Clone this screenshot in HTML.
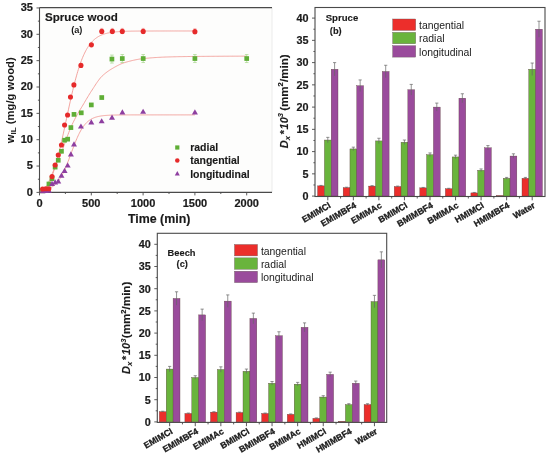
<!DOCTYPE html>
<html><head><meta charset="utf-8"><style>
html,body{margin:0;padding:0;background:#fff;}
svg{display:block;will-change:transform;filter:blur(0.3px);}
</style></head><body>
<svg width="550" height="455" viewBox="0 0 550 455">
<rect width="550" height="455" fill="#fff"/>
<rect x="39.5" y="7.6" width="232.5" height="184.8" fill="#fdfdfc" stroke="none"/>
<line x1="272" y1="7.6" x2="272" y2="192.4" stroke="#ebebeb" stroke-width="1"/>
<line x1="39.5" y1="7.6" x2="272" y2="7.6" stroke="#4a4a4a" stroke-width="1.1"/>
<line x1="39.5" y1="7.6" x2="39.5" y2="192.4" stroke="#4a4a4a" stroke-width="1.1"/>
<line x1="39.5" y1="192.4" x2="272" y2="192.4" stroke="#4a4a4a" stroke-width="1.1"/>
<line x1="36.5" y1="192.4" x2="39.5" y2="192.4" stroke="#4a4a4a" stroke-width="0.9"/>
<text x="32.9" y="195.7" text-anchor="end" style="font-family:'Liberation Sans',sans-serif;font-weight:bold;font-size:11px" fill="#1a1a1a" stroke="#1a1a1a" stroke-width="0.2">0</text>
<line x1="37.9" y1="179.22" x2="39.5" y2="179.22" stroke="#4a4a4a" stroke-width="0.9"/>
<line x1="36.5" y1="166.05" x2="39.5" y2="166.05" stroke="#4a4a4a" stroke-width="0.9"/>
<text x="32.9" y="169.35" text-anchor="end" style="font-family:'Liberation Sans',sans-serif;font-weight:bold;font-size:11px" fill="#1a1a1a" stroke="#1a1a1a" stroke-width="0.2">5</text>
<line x1="37.9" y1="152.88" x2="39.5" y2="152.88" stroke="#4a4a4a" stroke-width="0.9"/>
<line x1="36.5" y1="139.7" x2="39.5" y2="139.7" stroke="#4a4a4a" stroke-width="0.9"/>
<text x="32.9" y="143" text-anchor="end" style="font-family:'Liberation Sans',sans-serif;font-weight:bold;font-size:11px" fill="#1a1a1a" stroke="#1a1a1a" stroke-width="0.2">10</text>
<line x1="37.9" y1="126.53" x2="39.5" y2="126.53" stroke="#4a4a4a" stroke-width="0.9"/>
<line x1="36.5" y1="113.35" x2="39.5" y2="113.35" stroke="#4a4a4a" stroke-width="0.9"/>
<text x="32.9" y="116.65" text-anchor="end" style="font-family:'Liberation Sans',sans-serif;font-weight:bold;font-size:11px" fill="#1a1a1a" stroke="#1a1a1a" stroke-width="0.2">15</text>
<line x1="37.9" y1="100.18" x2="39.5" y2="100.18" stroke="#4a4a4a" stroke-width="0.9"/>
<line x1="36.5" y1="87" x2="39.5" y2="87" stroke="#4a4a4a" stroke-width="0.9"/>
<text x="32.9" y="90.3" text-anchor="end" style="font-family:'Liberation Sans',sans-serif;font-weight:bold;font-size:11px" fill="#1a1a1a" stroke="#1a1a1a" stroke-width="0.2">20</text>
<line x1="37.9" y1="73.83" x2="39.5" y2="73.83" stroke="#4a4a4a" stroke-width="0.9"/>
<line x1="36.5" y1="60.65" x2="39.5" y2="60.65" stroke="#4a4a4a" stroke-width="0.9"/>
<text x="32.9" y="63.95" text-anchor="end" style="font-family:'Liberation Sans',sans-serif;font-weight:bold;font-size:11px" fill="#1a1a1a" stroke="#1a1a1a" stroke-width="0.2">25</text>
<line x1="37.9" y1="47.48" x2="39.5" y2="47.48" stroke="#4a4a4a" stroke-width="0.9"/>
<line x1="36.5" y1="34.3" x2="39.5" y2="34.3" stroke="#4a4a4a" stroke-width="0.9"/>
<text x="32.9" y="37.6" text-anchor="end" style="font-family:'Liberation Sans',sans-serif;font-weight:bold;font-size:11px" fill="#1a1a1a" stroke="#1a1a1a" stroke-width="0.2">30</text>
<line x1="37.9" y1="21.13" x2="39.5" y2="21.13" stroke="#4a4a4a" stroke-width="0.9"/>
<line x1="36.5" y1="7.95" x2="39.5" y2="7.95" stroke="#4a4a4a" stroke-width="0.9"/>
<text x="32.9" y="11.25" text-anchor="end" style="font-family:'Liberation Sans',sans-serif;font-weight:bold;font-size:11px" fill="#1a1a1a" stroke="#1a1a1a" stroke-width="0.2">35</text>
<line x1="39.5" y1="192.4" x2="39.5" y2="195.4" stroke="#4a4a4a" stroke-width="0.9"/>
<text x="39.5" y="206.6" text-anchor="middle" style="font-family:'Liberation Sans',sans-serif;font-weight:bold;font-size:11px" fill="#1a1a1a" stroke="#1a1a1a" stroke-width="0.2">0</text>
<line x1="65.4" y1="192.4" x2="65.4" y2="194.0" stroke="#4a4a4a" stroke-width="0.9"/>
<line x1="91.3" y1="192.4" x2="91.3" y2="195.4" stroke="#4a4a4a" stroke-width="0.9"/>
<text x="91.3" y="206.6" text-anchor="middle" style="font-family:'Liberation Sans',sans-serif;font-weight:bold;font-size:11px" fill="#1a1a1a" stroke="#1a1a1a" stroke-width="0.2">500</text>
<line x1="117.2" y1="192.4" x2="117.2" y2="194.0" stroke="#4a4a4a" stroke-width="0.9"/>
<line x1="143.1" y1="192.4" x2="143.1" y2="195.4" stroke="#4a4a4a" stroke-width="0.9"/>
<text x="143.1" y="206.6" text-anchor="middle" style="font-family:'Liberation Sans',sans-serif;font-weight:bold;font-size:11px" fill="#1a1a1a" stroke="#1a1a1a" stroke-width="0.2">1000</text>
<line x1="169" y1="192.4" x2="169" y2="194.0" stroke="#4a4a4a" stroke-width="0.9"/>
<line x1="194.9" y1="192.4" x2="194.9" y2="195.4" stroke="#4a4a4a" stroke-width="0.9"/>
<text x="194.9" y="206.6" text-anchor="middle" style="font-family:'Liberation Sans',sans-serif;font-weight:bold;font-size:11px" fill="#1a1a1a" stroke="#1a1a1a" stroke-width="0.2">1500</text>
<line x1="220.8" y1="192.4" x2="220.8" y2="194.0" stroke="#4a4a4a" stroke-width="0.9"/>
<line x1="246.7" y1="192.4" x2="246.7" y2="195.4" stroke="#4a4a4a" stroke-width="0.9"/>
<text x="246.7" y="206.6" text-anchor="middle" style="font-family:'Liberation Sans',sans-serif;font-weight:bold;font-size:11px" fill="#1a1a1a" stroke="#1a1a1a" stroke-width="0.2">2000</text>
<text x="159.2" y="222.6" text-anchor="middle" style="font-family:'Liberation Sans',sans-serif;font-weight:bold;font-size:12.4px" fill="#1a1a1a" stroke="#1a1a1a" stroke-width="0.15">Time (min)</text>
<text transform="translate(13.8,100.3) rotate(-90)" text-anchor="middle" style="font-family:'Liberation Sans',sans-serif;font-weight:bold;font-size:11.25px" fill="#1a1a1a">w<tspan dy="2.5" style="font-size:8px">IL</tspan><tspan dy="-2.5"> (mg/g wood)</tspan></text>
<text x="45" y="21.3" style="font-family:'Liberation Sans',sans-serif;font-weight:bold;font-size:11.6px" fill="#1a1a1a" stroke="#1a1a1a" stroke-width="0.15">Spruce wood</text>
<text x="71.2" y="33.2" style="font-family:'Liberation Sans',sans-serif;font-weight:bold;font-size:9.2px" fill="#1a1a1a">(a)</text>
<polyline points="44.16,192.32 44.78,191.38 45.41,190.4 46.03,189.35 46.65,188.26 47.27,187.1 47.89,185.88 48.51,184.61 49.13,183.26 49.76,181.85 50.38,180.37 51,178.82 51.62,177.2 52.24,175.51 52.86,173.74 53.49,171.9 54.11,169.99 54.73,168 55.35,165.93 55.97,163.79 56.59,161.58 57.22,159.3 57.84,156.94 58.46,154.52 59.08,152.03 59.7,149.48 60.32,146.87 60.95,144.21 61.57,141.5 62.19,138.73 62.81,135.93 63.43,133.09 64.05,130.23 64.67,127.33 65.3,124.42 65.92,121.5 66.54,118.57 67.16,115.65 67.78,112.73 68.4,109.83 69.03,106.94 69.65,104.08 70.27,101.26 70.89,98.47 71.51,95.73 72.13,93.03 72.76,90.39 73.38,87.8 74,85.27 74.62,82.81 75.24,80.41 75.86,78.08 76.49,75.83 77.11,73.64 77.73,71.53 78.35,69.49 78.97,67.53 79.59,65.64 80.21,63.83 80.84,62.09 81.46,60.43 82.08,58.83 82.7,57.31 83.32,55.86 83.94,54.47 84.57,53.15 85.19,51.9 85.81,50.7 86.43,49.57 87.05,48.49 87.67,47.47 88.3,46.5 88.92,45.59 89.54,44.72 90.16,43.91 90.78,43.13 91.4,42.4 92.03,41.71 92.65,41.06 93.27,40.45 93.89,39.87 94.51,39.33 95.13,38.81 95.75,38.33 96.38,37.88 97,37.45 97.62,37.05 98.24,36.67 98.86,36.32 99.48,35.98 100.11,35.67 100.73,35.38 101.35,35.1 101.97,34.84 102.59,34.6 103.21,34.37 103.84,34.16 104.46,33.96 105.08,33.77 105.7,33.59 106.32,33.43 106.94,33.27 107.57,33.12 108.19,32.99 108.81,32.86 109.43,32.74 110.05,32.63 110.67,32.52 111.29,32.43 111.92,32.33 112.54,32.25 113.16,32.17 113.78,32.09 114.4,32.02 115.02,31.95 115.65,31.89 116.27,31.83 116.89,31.78 117.51,31.73 118.13,31.68 118.75,31.63 119.38,31.59 120,31.55 120.62,31.52 121.24,31.48 121.86,31.45 122.48,31.42 123.11,31.39 123.73,31.37 124.35,31.34 124.97,31.32 125.59,31.3 126.21,31.28 126.83,31.26 127.46,31.24 128.08,31.22 128.7,31.21 129.32,31.19 129.94,31.18 130.56,31.17 131.19,31.15 131.81,31.14 132.43,31.13 133.05,31.12 133.67,31.11 134.29,31.1 134.92,31.1 135.54,31.09 136.16,31.08 136.78,31.08 137.4,31.07 138.02,31.06 138.65,31.06 139.27,31.05 139.89,31.05 140.51,31.04 141.13,31.04 141.75,31.04 142.37,31.03 143,31.03 143.62,31.03 144.24,31.02 144.86,31.02 145.48,31.02 146.1,31.02 146.73,31.01 147.35,31.01 147.97,31.01 148.59,31.01 149.21,31.01 149.83,31 150.46,31 151.08,31 151.7,31 152.32,31 152.94,31 153.56,31 154.19,30.99 154.81,30.99 155.43,30.99 156.05,30.99 156.67,30.99 157.29,30.99 157.91,30.99 158.54,30.99 159.16,30.99 159.78,30.99 160.4,30.99 161.02,30.99 161.64,30.99 162.27,30.99 162.89,30.99 163.51,30.99 164.13,30.99 164.75,30.98 165.37,30.98 166,30.98 166.62,30.98 167.24,30.98 167.86,30.98 168.48,30.98 169.1,30.98 169.73,30.98 170.35,30.98 170.97,30.98 171.59,30.98 172.21,30.98 172.83,30.98 173.45,30.98 174.08,30.98 174.7,30.98 175.32,30.98 175.94,30.98 176.56,30.98 177.18,30.98 177.81,30.98 178.43,30.98 179.05,30.98 179.67,30.98 180.29,30.98 180.91,30.98 181.54,30.98 182.16,30.98 182.78,30.98 183.4,30.98 184.02,30.98 184.64,30.98 185.27,30.98 185.89,30.98 186.51,30.98 187.13,30.98 187.75,30.98 188.37,30.98 188.99,30.98 189.62,30.98 190.24,30.98 190.86,30.98 191.48,30.98 192.1,30.98 192.72,30.98 193.35,30.98 193.97,30.98 194.59,30.98" fill="none" stroke="#f29a94" stroke-width="0.9"/>
<polyline points="43.95,192.4 44.78,190.59 45.61,188.77 46.44,186.93 47.27,185.08 48.1,183.22 48.93,181.35 49.76,179.46 50.59,177.55 51.41,175.62 52.24,173.67 53.07,171.71 53.9,169.76 54.73,167.82 55.56,165.92 56.39,164.04 57.22,162.19 58.04,160.35 58.87,158.49 59.7,156.59 60.53,154.65 61.36,152.64 62.19,150.53 63.02,148.34 63.85,146.08 64.67,143.78 65.5,141.46 66.33,139.14 67.16,136.84 67.99,134.58 68.82,132.38 69.65,130.26 70.48,128.25 71.31,126.36 72.13,124.55 72.96,122.81 73.79,121.13 74.62,119.5 75.45,117.92 76.28,116.37 77.11,114.85 77.94,113.39 78.76,111.96 79.59,110.57 80.42,109.2 81.25,107.83 82.08,106.47 82.91,105.09 83.74,103.7 84.57,102.29 85.39,100.89 86.22,99.48 87.05,98.08 87.88,96.69 88.71,95.32 89.54,93.97 90.37,92.66 91.2,91.37 92.03,90.11 92.85,88.82 93.68,87.53 94.51,86.25 95.34,84.97 96.17,83.71 97,82.48 97.83,81.29 98.66,80.15 99.48,79.06 100.31,78.04 101.14,77.09 101.97,76.23 102.8,75.45 103.63,74.71 104.46,74 105.29,73.32 106.11,72.67 106.94,72.04 107.77,71.44 108.6,70.87 109.43,70.31 110.26,69.78 111.09,69.26 111.92,68.75 112.75,68.26 113.57,67.79 114.4,67.32 115.23,66.86 116.06,66.41 116.89,65.96 117.72,65.52 118.55,65.1 119.38,64.69 120.2,64.29 121.03,63.92 121.86,63.57 122.69,63.25 123.52,62.96 124.35,62.69 125.18,62.44 126.01,62.2 126.83,61.96 127.66,61.73 128.49,61.5 129.32,61.28 130.15,61.06 130.98,60.85 131.81,60.65 132.64,60.45 133.47,60.26 134.29,60.08 135.12,59.91 135.95,59.74 136.78,59.58 137.61,59.43 138.44,59.28 139.27,59.14 140.1,59.01 140.92,58.89 141.75,58.78 142.58,58.68 143.41,58.59 144.24,58.5 145.07,58.42 145.9,58.34 146.73,58.26 147.55,58.18 148.38,58.11 149.21,58.03 150.04,57.96 150.87,57.89 151.7,57.83 152.53,57.76 153.36,57.7 154.19,57.64 155.01,57.58 155.84,57.53 156.67,57.48 157.5,57.42 158.33,57.37 159.16,57.33 159.99,57.28 160.82,57.24 161.64,57.2 162.47,57.16 163.3,57.12 164.13,57.09 164.96,57.06 165.79,57.03 166.62,57 167.45,56.97 168.27,56.95 169.1,56.92 169.93,56.9 170.76,56.88 171.59,56.85 172.42,56.83 173.25,56.81 174.08,56.79 174.91,56.77 175.73,56.75 176.56,56.73 177.39,56.71 178.22,56.7 179.05,56.68 179.88,56.66 180.71,56.65 181.54,56.63 182.36,56.61 183.19,56.6 184.02,56.59 184.85,56.57 185.68,56.56 186.51,56.55 187.34,56.53 188.17,56.52 188.99,56.51 189.82,56.5 190.65,56.49 191.48,56.48 192.31,56.47 193.14,56.46 193.97,56.45 194.8,56.45 195.63,56.44 196.45,56.43 197.28,56.42 198.11,56.42 198.94,56.41 199.77,56.4 200.6,56.4 201.43,56.39 202.26,56.38 203.08,56.38 203.91,56.37 204.74,56.36 205.57,56.36 206.4,56.35 207.23,56.34 208.06,56.34 208.89,56.33 209.71,56.32 210.54,56.32 211.37,56.31 212.2,56.31 213.03,56.3 213.86,56.29 214.69,56.29 215.52,56.28 216.35,56.28 217.17,56.27 218,56.27 218.83,56.26 219.66,56.26 220.49,56.25 221.32,56.25 222.15,56.24 222.98,56.24 223.8,56.23 224.63,56.23 225.46,56.23 226.29,56.22 227.12,56.22 227.95,56.21 228.78,56.21 229.61,56.21 230.43,56.2 231.26,56.2 232.09,56.2 232.92,56.19 233.75,56.19 234.58,56.19 235.41,56.19 236.24,56.18 237.07,56.18 237.89,56.18 238.72,56.18 239.55,56.18 240.38,56.18 241.21,56.17 242.04,56.17 242.87,56.17 243.7,56.17 244.52,56.17 245.35,56.17 246.18,56.17" fill="none" stroke="#f29a94" stroke-width="0.9"/>
<polyline points="39.5,190.95 40.12,190.87 40.74,190.78 41.36,190.69 41.99,190.59 42.61,190.48 43.23,190.36 43.85,190.23 44.47,190.08 45.09,189.93 45.72,189.76 46.34,189.57 46.96,189.37 47.58,189.16 48.2,188.92 48.82,188.67 49.45,188.39 50.07,188.09 50.69,187.77 51.31,187.41 51.93,187.03 52.55,186.63 53.18,186.18 53.8,185.71 54.42,185.19 55.04,184.64 55.66,184.05 56.28,183.41 56.9,182.73 57.53,182 58.15,181.23 58.77,180.4 59.39,179.52 60.01,178.58 60.63,177.59 61.26,176.54 61.88,175.44 62.5,174.28 63.12,173.06 63.74,171.79 64.36,170.46 64.99,169.07 65.61,167.64 66.23,166.16 66.85,164.64 67.47,163.07 68.09,161.48 68.72,159.85 69.34,158.19 69.96,156.52 70.58,154.84 71.2,153.15 71.82,151.46 72.44,149.78 73.07,148.11 73.69,146.46 74.31,144.84 74.93,143.25 75.55,141.7 76.17,140.18 76.8,138.71 77.42,137.29 78.04,135.92 78.66,134.61 79.28,133.35 79.9,132.14 80.53,130.99 81.15,129.9 81.77,128.87 82.39,127.89 83.01,126.97 83.63,126.1 84.26,125.28 84.88,124.52 85.5,123.8 86.12,123.13 86.74,122.51 87.36,121.92 87.98,121.38 88.61,120.88 89.23,120.41 89.85,119.97 90.47,119.57 91.09,119.2 91.71,118.85 92.34,118.54 92.96,118.24 93.58,117.97 94.2,117.72 94.82,117.49 95.44,117.28 96.07,117.08 96.69,116.9 97.31,116.73 97.93,116.58 98.55,116.44 99.17,116.31 99.8,116.19 100.42,116.08 101.04,115.98 101.66,115.89 102.28,115.81 102.9,115.73 103.52,115.66 104.15,115.59 104.77,115.54 105.39,115.48 106.01,115.43 106.63,115.38 107.25,115.34 107.88,115.3 108.5,115.27 109.12,115.23 109.74,115.2 110.36,115.18 110.98,115.15 111.61,115.13 112.23,115.11 112.85,115.09 113.47,115.07 114.09,115.06 114.71,115.04 115.34,115.03 115.96,115.01 116.58,115 117.2,114.99 117.82,114.98 118.44,114.97 119.06,114.97 119.69,114.96 120.31,114.95 120.93,114.95 121.55,114.94 122.17,114.93 122.79,114.93 123.42,114.93 124.04,114.92 124.66,114.92 125.28,114.91 125.9,114.91 126.52,114.91 127.15,114.91 127.77,114.9 128.39,114.9 129.01,114.9 129.63,114.9 130.25,114.9 130.88,114.89 131.5,114.89 132.12,114.89 132.74,114.89 133.36,114.89 133.98,114.89 134.6,114.89 135.23,114.89 135.85,114.89 136.47,114.89 137.09,114.89 137.71,114.88 138.33,114.88 138.96,114.88 139.58,114.88 140.2,114.88 140.82,114.88 141.44,114.88 142.06,114.88 142.69,114.88 143.31,114.88 143.93,114.88 144.55,114.88 145.17,114.88 145.79,114.88 146.42,114.88 147.04,114.88 147.66,114.88 148.28,114.88 148.9,114.88 149.52,114.88 150.14,114.88 150.77,114.88 151.39,114.88 152.01,114.88 152.63,114.88 153.25,114.88 153.87,114.88 154.5,114.88 155.12,114.88 155.74,114.88 156.36,114.88 156.98,114.88 157.6,114.88 158.23,114.88 158.85,114.88 159.47,114.88 160.09,114.88 160.71,114.88 161.33,114.88 161.96,114.88 162.58,114.88 163.2,114.88 163.82,114.88 164.44,114.88 165.06,114.88 165.68,114.88 166.31,114.88 166.93,114.88 167.55,114.88 168.17,114.88 168.79,114.88 169.41,114.88 170.04,114.88 170.66,114.88 171.28,114.88 171.9,114.88 172.52,114.88 173.14,114.88 173.77,114.88 174.39,114.88 175.01,114.88 175.63,114.88 176.25,114.88 176.87,114.88 177.5,114.88 178.12,114.88 178.74,114.88 179.36,114.88 179.98,114.88 180.6,114.88 181.22,114.88 181.85,114.88 182.47,114.88 183.09,114.88 183.71,114.88 184.33,114.88 184.95,114.88 185.58,114.88 186.2,114.88 186.82,114.88 187.44,114.88 188.06,114.88 188.68,114.88 189.31,114.88 189.93,114.88 190.55,114.88 191.17,114.88 191.79,114.88 192.41,114.88 193.04,114.88 193.66,114.88 194.28,114.88 194.9,114.88" fill="none" stroke="#f29a94" stroke-width="0.9"/>
<path d="M111.92 55.07V63.07M110.12 55.07h3.6M110.12 63.07h3.6" stroke="#a6d68c" stroke-width="0.7" fill="none"/>
<path d="M122.28 54.54V62.54M120.48 54.54h3.6M120.48 62.54h3.6" stroke="#a6d68c" stroke-width="0.7" fill="none"/>
<path d="M143.2 54.54V62.54M141.4 54.54h3.6M141.4 62.54h3.6" stroke="#a6d68c" stroke-width="0.7" fill="none"/>
<path d="M194.9 54.54V62.54M193.1 54.54h3.6M193.1 62.54h3.6" stroke="#a6d68c" stroke-width="0.7" fill="none"/>
<path d="M246.7 54.54V62.54M244.9 54.54h3.6M244.9 62.54h3.6" stroke="#a6d68c" stroke-width="0.7" fill="none"/>
<path d="M101.76 28.4V34.4M100.26 28.4h3" stroke="#f3a0a0" stroke-width="0.7" fill="none"/>
<path d="M112.33 28.4V34.4M110.83 28.4h3" stroke="#f3a0a0" stroke-width="0.7" fill="none"/>
<path d="M122.28 28.4V34.4M120.78 28.4h3" stroke="#f3a0a0" stroke-width="0.7" fill="none"/>
<path d="M143.2 28.4V34.4M141.7 28.4h3" stroke="#f3a0a0" stroke-width="0.7" fill="none"/>
<path d="M194.9 28.67V34.67M193.4 28.67h3" stroke="#f3a0a0" stroke-width="0.7" fill="none"/>
<rect x="40.26" y="188.47" width="4.7" height="4.7" fill="#5fae36"/>
<rect x="43.37" y="187.94" width="4.7" height="4.7" fill="#5fae36"/>
<rect x="46.58" y="181.62" width="4.7" height="4.7" fill="#5fae36"/>
<rect x="49.69" y="176.35" width="4.7" height="4.7" fill="#5fae36"/>
<rect x="52.79" y="164.75" width="4.7" height="4.7" fill="#5fae36"/>
<rect x="55.9" y="157.9" width="4.7" height="4.7" fill="#5fae36"/>
<rect x="59.11" y="148.94" width="4.7" height="4.7" fill="#5fae36"/>
<rect x="62.22" y="137.88" width="4.7" height="4.7" fill="#5fae36"/>
<rect x="65.33" y="136.82" width="4.7" height="4.7" fill="#5fae36"/>
<rect x="68.54" y="125.23" width="4.7" height="4.7" fill="#5fae36"/>
<rect x="71.65" y="112.05" width="4.7" height="4.7" fill="#5fae36"/>
<rect x="78.9" y="110.47" width="4.7" height="4.7" fill="#5fae36"/>
<rect x="88.95" y="102.57" width="4.7" height="4.7" fill="#5fae36"/>
<rect x="99.41" y="95.19" width="4.7" height="4.7" fill="#5fae36"/>
<rect x="109.57" y="56.72" width="4.7" height="4.7" fill="#5fae36"/>
<rect x="119.93" y="56.19" width="4.7" height="4.7" fill="#5fae36"/>
<rect x="140.85" y="56.19" width="4.7" height="4.7" fill="#5fae36"/>
<rect x="192.55" y="56.19" width="4.7" height="4.7" fill="#5fae36"/>
<rect x="244.35" y="56.19" width="4.7" height="4.7" fill="#5fae36"/>
<path d="M42.61 187.98L45.61 193.18L39.61 193.18Z" fill="#8e3fa0"/>
<path d="M45.72 187.72L48.72 192.92L42.72 192.92Z" fill="#8e3fa0"/>
<path d="M48.82 187.46L51.82 192.66L45.82 192.66Z" fill="#8e3fa0"/>
<path d="M52.04 180.87L55.04 186.07L49.04 186.07Z" fill="#8e3fa0"/>
<path d="M55.14 179.29L58.14 184.49L52.14 184.49Z" fill="#8e3fa0"/>
<path d="M58.25 178.23L61.25 183.43L55.25 183.43Z" fill="#8e3fa0"/>
<path d="M61.46 172.44L64.46 177.64L58.46 177.64Z" fill="#8e3fa0"/>
<path d="M64.57 167.69L67.57 172.89L61.57 172.89Z" fill="#8e3fa0"/>
<path d="M67.68 162.42L70.68 167.62L64.68 167.62Z" fill="#8e3fa0"/>
<path d="M70.89 151.36L73.89 156.56L67.89 156.56Z" fill="#8e3fa0"/>
<path d="M74 141.34L77 146.54L71 146.54Z" fill="#8e3fa0"/>
<path d="M80.94 123.43L83.94 128.62L77.94 128.62Z" fill="#8e3fa0"/>
<path d="M91.3 119.21L94.3 124.41L88.3 124.41Z" fill="#8e3fa0"/>
<path d="M101.66 118.16L104.66 123.36L98.66 123.36Z" fill="#8e3fa0"/>
<path d="M112.02 114.47L115.02 119.67L109.02 119.67Z" fill="#8e3fa0"/>
<path d="M122.38 109.2L125.38 114.4L119.38 114.4Z" fill="#8e3fa0"/>
<path d="M143.1 108.67L146.1 113.87L140.1 113.87Z" fill="#8e3fa0"/>
<path d="M194.9 109.2L197.9 114.4L191.9 114.4Z" fill="#8e3fa0"/>
<circle cx="42.61" cy="188.97" r="2.55" fill="#e62a2a"/>
<circle cx="45.72" cy="188.71" r="2.55" fill="#e62a2a"/>
<circle cx="48.82" cy="188.71" r="2.55" fill="#e62a2a"/>
<circle cx="52.04" cy="176.59" r="2.55" fill="#e62a2a"/>
<circle cx="55.14" cy="165" r="2.55" fill="#e62a2a"/>
<circle cx="58.25" cy="154.98" r="2.55" fill="#e62a2a"/>
<circle cx="61.46" cy="144.97" r="2.55" fill="#e62a2a"/>
<circle cx="64.57" cy="124.94" r="2.55" fill="#e62a2a"/>
<circle cx="67.58" cy="114.93" r="2.55" fill="#e62a2a"/>
<circle cx="70.48" cy="97.01" r="2.55" fill="#e62a2a"/>
<circle cx="73.9" cy="84.89" r="2.55" fill="#e62a2a"/>
<circle cx="80.94" cy="65.39" r="2.55" fill="#e62a2a"/>
<circle cx="91.4" cy="44.84" r="2.55" fill="#e62a2a"/>
<circle cx="101.76" cy="31.4" r="2.55" fill="#e62a2a"/>
<circle cx="112.33" cy="31.4" r="2.55" fill="#e62a2a"/>
<circle cx="122.28" cy="31.4" r="2.55" fill="#e62a2a"/>
<circle cx="143.2" cy="31.4" r="2.55" fill="#e62a2a"/>
<circle cx="194.9" cy="31.67" r="2.55" fill="#e62a2a"/>
<rect x="175.2" y="145.4" width="4.2" height="4.2" fill="#5fae36"/>
<circle cx="177.3" cy="160.5" r="2.25" fill="#e62a2a"/>
<path d="M177.3 171L179.8 175.4L174.8 175.4Z" fill="#8e3fa0"/>
<text x="190.2" y="151.4" style="font-family:'Liberation Sans',sans-serif;font-weight:bold;font-size:10.5px" fill="#1a1a1a" stroke="#1a1a1a" stroke-width="0.12">radial</text>
<text x="190.2" y="164.4" style="font-family:'Liberation Sans',sans-serif;font-weight:bold;font-size:10.5px" fill="#1a1a1a" stroke="#1a1a1a" stroke-width="0.12">tangential</text>
<text x="190.2" y="177.5" style="font-family:'Liberation Sans',sans-serif;font-weight:bold;font-size:10.5px" fill="#1a1a1a" stroke="#1a1a1a" stroke-width="0.12">longitudinal</text>
<rect x="315" y="7.5" width="230" height="189.0" fill="none" stroke="#4a4a4a" stroke-width="1.1"/>
<line x1="312" y1="196.1" x2="315" y2="196.1" stroke="#4a4a4a" stroke-width="0.9"/>
<text x="308.5" y="199.9" text-anchor="end" style="font-family:'Liberation Sans',sans-serif;font-weight:bold;font-size:10.8px" fill="#1a1a1a" stroke="#1a1a1a" stroke-width="0.2">0</text>
<line x1="313.4" y1="184.97" x2="315" y2="184.97" stroke="#4a4a4a" stroke-width="0.9"/>
<line x1="312" y1="173.85" x2="315" y2="173.85" stroke="#4a4a4a" stroke-width="0.9"/>
<text x="308.5" y="177.65" text-anchor="end" style="font-family:'Liberation Sans',sans-serif;font-weight:bold;font-size:10.8px" fill="#1a1a1a" stroke="#1a1a1a" stroke-width="0.2">5</text>
<line x1="313.4" y1="162.72" x2="315" y2="162.72" stroke="#4a4a4a" stroke-width="0.9"/>
<line x1="312" y1="151.6" x2="315" y2="151.6" stroke="#4a4a4a" stroke-width="0.9"/>
<text x="308.5" y="155.4" text-anchor="end" style="font-family:'Liberation Sans',sans-serif;font-weight:bold;font-size:10.8px" fill="#1a1a1a" stroke="#1a1a1a" stroke-width="0.2">10</text>
<line x1="313.4" y1="140.47" x2="315" y2="140.47" stroke="#4a4a4a" stroke-width="0.9"/>
<line x1="312" y1="129.35" x2="315" y2="129.35" stroke="#4a4a4a" stroke-width="0.9"/>
<text x="308.5" y="133.15" text-anchor="end" style="font-family:'Liberation Sans',sans-serif;font-weight:bold;font-size:10.8px" fill="#1a1a1a" stroke="#1a1a1a" stroke-width="0.2">15</text>
<line x1="313.4" y1="118.22" x2="315" y2="118.22" stroke="#4a4a4a" stroke-width="0.9"/>
<line x1="312" y1="107.1" x2="315" y2="107.1" stroke="#4a4a4a" stroke-width="0.9"/>
<text x="308.5" y="110.9" text-anchor="end" style="font-family:'Liberation Sans',sans-serif;font-weight:bold;font-size:10.8px" fill="#1a1a1a" stroke="#1a1a1a" stroke-width="0.2">20</text>
<line x1="313.4" y1="95.97" x2="315" y2="95.97" stroke="#4a4a4a" stroke-width="0.9"/>
<line x1="312" y1="84.85" x2="315" y2="84.85" stroke="#4a4a4a" stroke-width="0.9"/>
<text x="308.5" y="88.65" text-anchor="end" style="font-family:'Liberation Sans',sans-serif;font-weight:bold;font-size:10.8px" fill="#1a1a1a" stroke="#1a1a1a" stroke-width="0.2">25</text>
<line x1="313.4" y1="73.72" x2="315" y2="73.72" stroke="#4a4a4a" stroke-width="0.9"/>
<line x1="312" y1="62.6" x2="315" y2="62.6" stroke="#4a4a4a" stroke-width="0.9"/>
<text x="308.5" y="66.4" text-anchor="end" style="font-family:'Liberation Sans',sans-serif;font-weight:bold;font-size:10.8px" fill="#1a1a1a" stroke="#1a1a1a" stroke-width="0.2">30</text>
<line x1="313.4" y1="51.47" x2="315" y2="51.47" stroke="#4a4a4a" stroke-width="0.9"/>
<line x1="312" y1="40.35" x2="315" y2="40.35" stroke="#4a4a4a" stroke-width="0.9"/>
<text x="308.5" y="44.15" text-anchor="end" style="font-family:'Liberation Sans',sans-serif;font-weight:bold;font-size:10.8px" fill="#1a1a1a" stroke="#1a1a1a" stroke-width="0.2">35</text>
<line x1="313.4" y1="29.22" x2="315" y2="29.22" stroke="#4a4a4a" stroke-width="0.9"/>
<line x1="312" y1="18.1" x2="315" y2="18.1" stroke="#4a4a4a" stroke-width="0.9"/>
<text x="308.5" y="21.9" text-anchor="end" style="font-family:'Liberation Sans',sans-serif;font-weight:bold;font-size:10.8px" fill="#1a1a1a" stroke="#1a1a1a" stroke-width="0.2">40</text>
<rect x="317.6" y="185.87" width="6.8" height="10.13" fill="#ec2e2b" stroke="#5a3a3a" stroke-width="0.35"/>
<path d="M321 186.31V185.42M319.4 185.42h3.2" stroke="#666" stroke-width="0.7" fill="none"/>
<rect x="324.4" y="140.03" width="6.8" height="55.97" fill="#69b43c" stroke="#5a3a3a" stroke-width="0.35"/>
<path d="M327.8 142.7V137.36M326.2 137.36h3.2" stroke="#666" stroke-width="0.7" fill="none"/>
<rect x="331.2" y="69.27" width="6.8" height="126.73" fill="#9a4b9c" stroke="#5a3a3a" stroke-width="0.35"/>
<path d="M334.6 75.95V62.6M333 62.6h3.2" stroke="#666" stroke-width="0.7" fill="none"/>
<line x1="327.8" y1="196.5" x2="327.8" y2="200.3" stroke="#4a4a4a" stroke-width="0.9"/>
<line x1="340.57" y1="196.5" x2="340.57" y2="198.5" stroke="#4a4a4a" stroke-width="0.9"/>
<text transform="translate(331.4,207.1) rotate(-30)" text-anchor="end" style="font-family:'Liberation Sans',sans-serif;font-weight:bold;font-size:8.7px" fill="#1a1a1a" stroke="#1a1a1a" stroke-width="0.3">EMIMCl</text>
<rect x="343.15" y="187.64" width="6.8" height="8.36" fill="#ec2e2b" stroke="#5a3a3a" stroke-width="0.35"/>
<path d="M346.55 188.09V187.2M344.95 187.2h3.2" stroke="#666" stroke-width="0.7" fill="none"/>
<rect x="349.95" y="148.93" width="6.8" height="47.07" fill="#69b43c" stroke="#5a3a3a" stroke-width="0.35"/>
<path d="M353.35 150.71V147.15M351.75 147.15h3.2" stroke="#666" stroke-width="0.7" fill="none"/>
<rect x="356.75" y="85.74" width="6.8" height="110.26" fill="#9a4b9c" stroke="#5a3a3a" stroke-width="0.35"/>
<path d="M360.15 91.52V79.95M358.55 79.95h3.2" stroke="#666" stroke-width="0.7" fill="none"/>
<line x1="353.35" y1="196.5" x2="353.35" y2="200.3" stroke="#4a4a4a" stroke-width="0.9"/>
<line x1="366.12" y1="196.5" x2="366.12" y2="198.5" stroke="#4a4a4a" stroke-width="0.9"/>
<text transform="translate(356.95,207.1) rotate(-30)" text-anchor="end" style="font-family:'Liberation Sans',sans-serif;font-weight:bold;font-size:8.7px" fill="#1a1a1a" stroke="#1a1a1a" stroke-width="0.3">EMIMBF4</text>
<rect x="368.7" y="186.09" width="6.8" height="9.91" fill="#ec2e2b" stroke="#5a3a3a" stroke-width="0.35"/>
<path d="M372.1 186.53V185.64M370.5 185.64h3.2" stroke="#666" stroke-width="0.7" fill="none"/>
<rect x="375.5" y="140.92" width="6.8" height="55.08" fill="#69b43c" stroke="#5a3a3a" stroke-width="0.35"/>
<path d="M378.9 143.59V138.25M377.3 138.25h3.2" stroke="#666" stroke-width="0.7" fill="none"/>
<rect x="382.3" y="71.5" width="6.8" height="124.5" fill="#9a4b9c" stroke="#5a3a3a" stroke-width="0.35"/>
<path d="M385.7 77.73V65.27M384.1 65.27h3.2" stroke="#666" stroke-width="0.7" fill="none"/>
<line x1="378.9" y1="196.5" x2="378.9" y2="200.3" stroke="#4a4a4a" stroke-width="0.9"/>
<line x1="391.68" y1="196.5" x2="391.68" y2="198.5" stroke="#4a4a4a" stroke-width="0.9"/>
<text transform="translate(382.5,207.1) rotate(-30)" text-anchor="end" style="font-family:'Liberation Sans',sans-serif;font-weight:bold;font-size:8.7px" fill="#1a1a1a" stroke="#1a1a1a" stroke-width="0.3">EMIMAc</text>
<rect x="394.25" y="186.53" width="6.8" height="9.47" fill="#ec2e2b" stroke="#5a3a3a" stroke-width="0.35"/>
<path d="M397.65 186.98V186.09M396.05 186.09h3.2" stroke="#666" stroke-width="0.7" fill="none"/>
<rect x="401.05" y="142.25" width="6.8" height="53.75" fill="#69b43c" stroke="#5a3a3a" stroke-width="0.35"/>
<path d="M404.45 144.48V140.03M402.85 140.03h3.2" stroke="#666" stroke-width="0.7" fill="none"/>
<rect x="407.85" y="89.74" width="6.8" height="106.26" fill="#9a4b9c" stroke="#5a3a3a" stroke-width="0.35"/>
<path d="M411.25 95.08V84.4M409.65 84.4h3.2" stroke="#666" stroke-width="0.7" fill="none"/>
<line x1="404.45" y1="196.5" x2="404.45" y2="200.3" stroke="#4a4a4a" stroke-width="0.9"/>
<line x1="417.22" y1="196.5" x2="417.22" y2="198.5" stroke="#4a4a4a" stroke-width="0.9"/>
<text transform="translate(408.05,207.1) rotate(-30)" text-anchor="end" style="font-family:'Liberation Sans',sans-serif;font-weight:bold;font-size:8.7px" fill="#1a1a1a" stroke="#1a1a1a" stroke-width="0.3">BMIMCl</text>
<rect x="419.8" y="187.87" width="6.8" height="8.13" fill="#ec2e2b" stroke="#5a3a3a" stroke-width="0.35"/>
<path d="M423.2 188.31V187.42M421.6 187.42h3.2" stroke="#666" stroke-width="0.7" fill="none"/>
<rect x="426.6" y="154.71" width="6.8" height="41.29" fill="#69b43c" stroke="#5a3a3a" stroke-width="0.35"/>
<path d="M430 156.49V152.93M428.4 152.93h3.2" stroke="#666" stroke-width="0.7" fill="none"/>
<rect x="433.4" y="107.1" width="6.8" height="88.9" fill="#9a4b9c" stroke="#5a3a3a" stroke-width="0.35"/>
<path d="M436.8 111.1V103.09M435.2 103.09h3.2" stroke="#666" stroke-width="0.7" fill="none"/>
<line x1="430" y1="196.5" x2="430" y2="200.3" stroke="#4a4a4a" stroke-width="0.9"/>
<line x1="442.77" y1="196.5" x2="442.77" y2="198.5" stroke="#4a4a4a" stroke-width="0.9"/>
<text transform="translate(433.6,207.1) rotate(-30)" text-anchor="end" style="font-family:'Liberation Sans',sans-serif;font-weight:bold;font-size:8.7px" fill="#1a1a1a" stroke="#1a1a1a" stroke-width="0.3">BMIMBF4</text>
<rect x="445.35" y="188.76" width="6.8" height="7.24" fill="#ec2e2b" stroke="#5a3a3a" stroke-width="0.35"/>
<path d="M448.75 189.2V188.31M447.15 188.31h3.2" stroke="#666" stroke-width="0.7" fill="none"/>
<rect x="452.15" y="156.94" width="6.8" height="39.06" fill="#69b43c" stroke="#5a3a3a" stroke-width="0.35"/>
<path d="M455.55 158.72V155.16M453.95 155.16h3.2" stroke="#666" stroke-width="0.7" fill="none"/>
<rect x="458.95" y="98.2" width="6.8" height="97.8" fill="#9a4b9c" stroke="#5a3a3a" stroke-width="0.35"/>
<path d="M462.35 102.65V93.75M460.75 93.75h3.2" stroke="#666" stroke-width="0.7" fill="none"/>
<line x1="455.55" y1="196.5" x2="455.55" y2="200.3" stroke="#4a4a4a" stroke-width="0.9"/>
<line x1="468.32" y1="196.5" x2="468.32" y2="198.5" stroke="#4a4a4a" stroke-width="0.9"/>
<text transform="translate(459.15,207.1) rotate(-30)" text-anchor="end" style="font-family:'Liberation Sans',sans-serif;font-weight:bold;font-size:8.7px" fill="#1a1a1a" stroke="#1a1a1a" stroke-width="0.3">BMIMAc</text>
<rect x="470.9" y="192.9" width="6.8" height="3.1" fill="#ec2e2b" stroke="#5a3a3a" stroke-width="0.35"/>
<path d="M474.3 193.34V192.45M472.7 192.45h3.2" stroke="#666" stroke-width="0.7" fill="none"/>
<rect x="477.7" y="170.29" width="6.8" height="25.71" fill="#69b43c" stroke="#5a3a3a" stroke-width="0.35"/>
<path d="M481.1 171.62V168.95M479.5 168.95h3.2" stroke="#666" stroke-width="0.7" fill="none"/>
<rect x="484.5" y="147.82" width="6.8" height="48.18" fill="#9a4b9c" stroke="#5a3a3a" stroke-width="0.35"/>
<path d="M487.9 150.04V145.59M486.3 145.59h3.2" stroke="#666" stroke-width="0.7" fill="none"/>
<line x1="481.1" y1="196.5" x2="481.1" y2="200.3" stroke="#4a4a4a" stroke-width="0.9"/>
<line x1="493.88" y1="196.5" x2="493.88" y2="198.5" stroke="#4a4a4a" stroke-width="0.9"/>
<text transform="translate(484.7,207.1) rotate(-30)" text-anchor="end" style="font-family:'Liberation Sans',sans-serif;font-weight:bold;font-size:8.7px" fill="#1a1a1a" stroke="#1a1a1a" stroke-width="0.3">HMIMCl</text>
<rect x="496.45" y="195.66" width="6.8" height="0.34" fill="#ec2e2b" stroke="#5a3a3a" stroke-width="0.35"/>
<rect x="503.25" y="178.3" width="6.8" height="17.7" fill="#69b43c" stroke="#5a3a3a" stroke-width="0.35"/>
<path d="M506.65 179.19V177.41M505.05 177.41h3.2" stroke="#666" stroke-width="0.7" fill="none"/>
<rect x="510.05" y="156.05" width="6.8" height="39.95" fill="#9a4b9c" stroke="#5a3a3a" stroke-width="0.35"/>
<path d="M513.45 158.27V153.82M511.85 153.82h3.2" stroke="#666" stroke-width="0.7" fill="none"/>
<line x1="506.65" y1="196.5" x2="506.65" y2="200.3" stroke="#4a4a4a" stroke-width="0.9"/>
<line x1="519.43" y1="196.5" x2="519.43" y2="198.5" stroke="#4a4a4a" stroke-width="0.9"/>
<text transform="translate(510.25,207.1) rotate(-30)" text-anchor="end" style="font-family:'Liberation Sans',sans-serif;font-weight:bold;font-size:8.7px" fill="#1a1a1a" stroke="#1a1a1a" stroke-width="0.3">HMIMBF4</text>
<rect x="522" y="178.3" width="6.8" height="17.7" fill="#ec2e2b" stroke="#5a3a3a" stroke-width="0.35"/>
<path d="M525.4 179.19V177.41M523.8 177.41h3.2" stroke="#666" stroke-width="0.7" fill="none"/>
<rect x="528.8" y="69.27" width="6.8" height="126.73" fill="#69b43c" stroke="#5a3a3a" stroke-width="0.35"/>
<path d="M532.2 75.5V63.04M530.6 63.04h3.2" stroke="#666" stroke-width="0.7" fill="none"/>
<rect x="535.6" y="29.22" width="6.8" height="166.78" fill="#9a4b9c" stroke="#5a3a3a" stroke-width="0.35"/>
<path d="M539 37.23V21.21M537.4 21.21h3.2" stroke="#666" stroke-width="0.7" fill="none"/>
<line x1="532.2" y1="196.5" x2="532.2" y2="200.3" stroke="#4a4a4a" stroke-width="0.9"/>
<text transform="translate(535.8,207.1) rotate(-30)" text-anchor="end" style="font-family:'Liberation Sans',sans-serif;font-weight:bold;font-size:8.7px" fill="#1a1a1a" stroke="#1a1a1a" stroke-width="0.3">Water</text>
<rect x="392.7" y="19" width="23" height="11.4" fill="#ec2e2b" stroke="#6a5a5a" stroke-width="0.4"/>
<text x="419.1" y="29" style="font-family:'Liberation Sans',sans-serif;font-size:10.4px" fill="#1a1a1a">tangential</text>
<rect x="392.7" y="32.35" width="23" height="11.4" fill="#69b43c" stroke="#6a5a5a" stroke-width="0.4"/>
<text x="419.1" y="42.35" style="font-family:'Liberation Sans',sans-serif;font-size:10.4px" fill="#1a1a1a">radial</text>
<rect x="392.7" y="45.7" width="23" height="11.4" fill="#9a4b9c" stroke="#6a5a5a" stroke-width="0.4"/>
<text x="419.1" y="55.7" style="font-family:'Liberation Sans',sans-serif;font-size:10.4px" fill="#1a1a1a">longitudinal</text>
<text x="325.7" y="20.9" style="font-family:'Liberation Sans',sans-serif;font-weight:bold;font-size:9.6px" fill="#1a1a1a" stroke="#1a1a1a" stroke-width="0.12">Spruce</text>
<text x="329.8" y="34.2" style="font-family:'Liberation Sans',sans-serif;font-weight:bold;font-size:9.3px" fill="#1a1a1a" stroke="#1a1a1a" stroke-width="0.12">(b)</text>
<text transform="translate(287.6,101.3) rotate(-90)" text-anchor="middle" style="font-family:'Liberation Sans',sans-serif;font-weight:bold;font-size:11.0px" fill="#1a1a1a" stroke="#1a1a1a" stroke-width="0.12"><tspan style="font-style:italic">D<tspan dy="2.5" style="font-size:7.5px">x</tspan><tspan dy="-2.5" dx="1.3">*</tspan><tspan dx="1.1">10</tspan><tspan dy="-4.3" style="font-size:7.5px">3</tspan></tspan><tspan dy="4.3" dx="2.2" style="font-size:11.6px">(mm</tspan><tspan dy="-4.2" style="font-size:7.8px">2</tspan><tspan dy="4.2" style="font-size:11.6px">/min)</tspan></text>
<rect x="157.3" y="233.3" width="229.39999999999998" height="189.09999999999997" fill="none" stroke="#4a4a4a" stroke-width="1.1"/>
<line x1="154.3" y1="421.9" x2="157.3" y2="421.9" stroke="#4a4a4a" stroke-width="0.9"/>
<text x="150.8" y="425.7" text-anchor="end" style="font-family:'Liberation Sans',sans-serif;font-weight:bold;font-size:10.8px" fill="#1a1a1a" stroke="#1a1a1a" stroke-width="0.2">0</text>
<line x1="155.70000000000002" y1="410.8" x2="157.3" y2="410.8" stroke="#4a4a4a" stroke-width="0.9"/>
<line x1="154.3" y1="399.7" x2="157.3" y2="399.7" stroke="#4a4a4a" stroke-width="0.9"/>
<text x="150.8" y="403.5" text-anchor="end" style="font-family:'Liberation Sans',sans-serif;font-weight:bold;font-size:10.8px" fill="#1a1a1a" stroke="#1a1a1a" stroke-width="0.2">5</text>
<line x1="155.70000000000002" y1="388.6" x2="157.3" y2="388.6" stroke="#4a4a4a" stroke-width="0.9"/>
<line x1="154.3" y1="377.5" x2="157.3" y2="377.5" stroke="#4a4a4a" stroke-width="0.9"/>
<text x="150.8" y="381.3" text-anchor="end" style="font-family:'Liberation Sans',sans-serif;font-weight:bold;font-size:10.8px" fill="#1a1a1a" stroke="#1a1a1a" stroke-width="0.2">10</text>
<line x1="155.70000000000002" y1="366.4" x2="157.3" y2="366.4" stroke="#4a4a4a" stroke-width="0.9"/>
<line x1="154.3" y1="355.3" x2="157.3" y2="355.3" stroke="#4a4a4a" stroke-width="0.9"/>
<text x="150.8" y="359.1" text-anchor="end" style="font-family:'Liberation Sans',sans-serif;font-weight:bold;font-size:10.8px" fill="#1a1a1a" stroke="#1a1a1a" stroke-width="0.2">15</text>
<line x1="155.70000000000002" y1="344.2" x2="157.3" y2="344.2" stroke="#4a4a4a" stroke-width="0.9"/>
<line x1="154.3" y1="333.1" x2="157.3" y2="333.1" stroke="#4a4a4a" stroke-width="0.9"/>
<text x="150.8" y="336.9" text-anchor="end" style="font-family:'Liberation Sans',sans-serif;font-weight:bold;font-size:10.8px" fill="#1a1a1a" stroke="#1a1a1a" stroke-width="0.2">20</text>
<line x1="155.70000000000002" y1="322" x2="157.3" y2="322" stroke="#4a4a4a" stroke-width="0.9"/>
<line x1="154.3" y1="310.9" x2="157.3" y2="310.9" stroke="#4a4a4a" stroke-width="0.9"/>
<text x="150.8" y="314.7" text-anchor="end" style="font-family:'Liberation Sans',sans-serif;font-weight:bold;font-size:10.8px" fill="#1a1a1a" stroke="#1a1a1a" stroke-width="0.2">25</text>
<line x1="155.70000000000002" y1="299.8" x2="157.3" y2="299.8" stroke="#4a4a4a" stroke-width="0.9"/>
<line x1="154.3" y1="288.7" x2="157.3" y2="288.7" stroke="#4a4a4a" stroke-width="0.9"/>
<text x="150.8" y="292.5" text-anchor="end" style="font-family:'Liberation Sans',sans-serif;font-weight:bold;font-size:10.8px" fill="#1a1a1a" stroke="#1a1a1a" stroke-width="0.2">30</text>
<line x1="155.70000000000002" y1="277.6" x2="157.3" y2="277.6" stroke="#4a4a4a" stroke-width="0.9"/>
<line x1="154.3" y1="266.5" x2="157.3" y2="266.5" stroke="#4a4a4a" stroke-width="0.9"/>
<text x="150.8" y="270.3" text-anchor="end" style="font-family:'Liberation Sans',sans-serif;font-weight:bold;font-size:10.8px" fill="#1a1a1a" stroke="#1a1a1a" stroke-width="0.2">35</text>
<line x1="155.70000000000002" y1="255.4" x2="157.3" y2="255.4" stroke="#4a4a4a" stroke-width="0.9"/>
<line x1="154.3" y1="244.3" x2="157.3" y2="244.3" stroke="#4a4a4a" stroke-width="0.9"/>
<text x="150.8" y="248.1" text-anchor="end" style="font-family:'Liberation Sans',sans-serif;font-weight:bold;font-size:10.8px" fill="#1a1a1a" stroke="#1a1a1a" stroke-width="0.2">40</text>
<rect x="159.3" y="411.69" width="6.9" height="10.21" fill="#ec2e2b" stroke="#5a3a3a" stroke-width="0.35"/>
<path d="M162.75 412.13V411.24M161.15 411.24h3.2" stroke="#666" stroke-width="0.7" fill="none"/>
<rect x="166.2" y="369.06" width="6.9" height="52.84" fill="#69b43c" stroke="#5a3a3a" stroke-width="0.35"/>
<path d="M169.65 371.73V366.4M168.05 366.4h3.2" stroke="#666" stroke-width="0.7" fill="none"/>
<rect x="173.1" y="298.47" width="6.9" height="123.43" fill="#9a4b9c" stroke="#5a3a3a" stroke-width="0.35"/>
<path d="M176.55 305.13V291.81M174.95 291.81h3.2" stroke="#666" stroke-width="0.7" fill="none"/>
<line x1="169.65" y1="422.4" x2="169.65" y2="426.2" stroke="#4a4a4a" stroke-width="0.9"/>
<line x1="182.45" y1="422.4" x2="182.45" y2="424.4" stroke="#4a4a4a" stroke-width="0.9"/>
<text transform="translate(173.25,433) rotate(-30)" text-anchor="end" style="font-family:'Liberation Sans',sans-serif;font-weight:bold;font-size:8.7px" fill="#1a1a1a" stroke="#1a1a1a" stroke-width="0.3">EMIMCl</text>
<rect x="184.9" y="413.46" width="6.9" height="8.44" fill="#ec2e2b" stroke="#5a3a3a" stroke-width="0.35"/>
<path d="M188.35 413.91V413.02M186.75 413.02h3.2" stroke="#666" stroke-width="0.7" fill="none"/>
<rect x="191.8" y="377.5" width="6.9" height="44.4" fill="#69b43c" stroke="#5a3a3a" stroke-width="0.35"/>
<path d="M195.25 379.28V375.72M193.65 375.72h3.2" stroke="#666" stroke-width="0.7" fill="none"/>
<rect x="198.7" y="314.9" width="6.9" height="107" fill="#9a4b9c" stroke="#5a3a3a" stroke-width="0.35"/>
<path d="M202.15 320.67V309.12M200.55 309.12h3.2" stroke="#666" stroke-width="0.7" fill="none"/>
<line x1="195.25" y1="422.4" x2="195.25" y2="426.2" stroke="#4a4a4a" stroke-width="0.9"/>
<line x1="208.05" y1="422.4" x2="208.05" y2="424.4" stroke="#4a4a4a" stroke-width="0.9"/>
<text transform="translate(198.85,433) rotate(-30)" text-anchor="end" style="font-family:'Liberation Sans',sans-serif;font-weight:bold;font-size:8.7px" fill="#1a1a1a" stroke="#1a1a1a" stroke-width="0.3">EMIMBF4</text>
<rect x="210.5" y="412.13" width="6.9" height="9.77" fill="#ec2e2b" stroke="#5a3a3a" stroke-width="0.35"/>
<path d="M213.95 412.58V411.69M212.35 411.69h3.2" stroke="#666" stroke-width="0.7" fill="none"/>
<rect x="217.4" y="369.51" width="6.9" height="52.39" fill="#69b43c" stroke="#5a3a3a" stroke-width="0.35"/>
<path d="M220.85 372.17V366.84M219.25 366.84h3.2" stroke="#666" stroke-width="0.7" fill="none"/>
<rect x="224.3" y="301.13" width="6.9" height="120.77" fill="#9a4b9c" stroke="#5a3a3a" stroke-width="0.35"/>
<path d="M227.75 307.35V294.92M226.15 294.92h3.2" stroke="#666" stroke-width="0.7" fill="none"/>
<line x1="220.85" y1="422.4" x2="220.85" y2="426.2" stroke="#4a4a4a" stroke-width="0.9"/>
<line x1="233.65" y1="422.4" x2="233.65" y2="424.4" stroke="#4a4a4a" stroke-width="0.9"/>
<text transform="translate(224.45,433) rotate(-30)" text-anchor="end" style="font-family:'Liberation Sans',sans-serif;font-weight:bold;font-size:8.7px" fill="#1a1a1a" stroke="#1a1a1a" stroke-width="0.3">EMIMAc</text>
<rect x="236.1" y="412.58" width="6.9" height="9.32" fill="#ec2e2b" stroke="#5a3a3a" stroke-width="0.35"/>
<path d="M239.55 413.02V412.13M237.95 412.13h3.2" stroke="#666" stroke-width="0.7" fill="none"/>
<rect x="243" y="371.28" width="6.9" height="50.62" fill="#69b43c" stroke="#5a3a3a" stroke-width="0.35"/>
<path d="M246.45 373.5V369.06M244.85 369.06h3.2" stroke="#666" stroke-width="0.7" fill="none"/>
<rect x="249.9" y="318.45" width="6.9" height="103.45" fill="#9a4b9c" stroke="#5a3a3a" stroke-width="0.35"/>
<path d="M253.35 323.78V313.12M251.75 313.12h3.2" stroke="#666" stroke-width="0.7" fill="none"/>
<line x1="246.45" y1="422.4" x2="246.45" y2="426.2" stroke="#4a4a4a" stroke-width="0.9"/>
<line x1="259.25" y1="422.4" x2="259.25" y2="424.4" stroke="#4a4a4a" stroke-width="0.9"/>
<text transform="translate(250.05,433) rotate(-30)" text-anchor="end" style="font-family:'Liberation Sans',sans-serif;font-weight:bold;font-size:8.7px" fill="#1a1a1a" stroke="#1a1a1a" stroke-width="0.3">BMIMCl</text>
<rect x="261.7" y="413.46" width="6.9" height="8.44" fill="#ec2e2b" stroke="#5a3a3a" stroke-width="0.35"/>
<path d="M265.15 413.91V413.02M263.55 413.02h3.2" stroke="#666" stroke-width="0.7" fill="none"/>
<rect x="268.6" y="383.27" width="6.9" height="38.63" fill="#69b43c" stroke="#5a3a3a" stroke-width="0.35"/>
<path d="M272.05 385.05V381.5M270.45 381.5h3.2" stroke="#666" stroke-width="0.7" fill="none"/>
<rect x="275.5" y="335.76" width="6.9" height="86.14" fill="#9a4b9c" stroke="#5a3a3a" stroke-width="0.35"/>
<path d="M278.95 339.76V331.77M277.35 331.77h3.2" stroke="#666" stroke-width="0.7" fill="none"/>
<line x1="272.05" y1="422.4" x2="272.05" y2="426.2" stroke="#4a4a4a" stroke-width="0.9"/>
<line x1="284.85" y1="422.4" x2="284.85" y2="424.4" stroke="#4a4a4a" stroke-width="0.9"/>
<text transform="translate(275.65,433) rotate(-30)" text-anchor="end" style="font-family:'Liberation Sans',sans-serif;font-weight:bold;font-size:8.7px" fill="#1a1a1a" stroke="#1a1a1a" stroke-width="0.3">BMIMBF4</text>
<rect x="287.3" y="414.35" width="6.9" height="7.55" fill="#ec2e2b" stroke="#5a3a3a" stroke-width="0.35"/>
<path d="M290.75 414.8V413.91M289.15 413.91h3.2" stroke="#666" stroke-width="0.7" fill="none"/>
<rect x="294.2" y="384.16" width="6.9" height="37.74" fill="#69b43c" stroke="#5a3a3a" stroke-width="0.35"/>
<path d="M297.65 385.94V382.38M296.05 382.38h3.2" stroke="#666" stroke-width="0.7" fill="none"/>
<rect x="301.1" y="327.33" width="6.9" height="94.57" fill="#9a4b9c" stroke="#5a3a3a" stroke-width="0.35"/>
<path d="M304.55 331.77V322.89M302.95 322.89h3.2" stroke="#666" stroke-width="0.7" fill="none"/>
<line x1="297.65" y1="422.4" x2="297.65" y2="426.2" stroke="#4a4a4a" stroke-width="0.9"/>
<line x1="310.45" y1="422.4" x2="310.45" y2="424.4" stroke="#4a4a4a" stroke-width="0.9"/>
<text transform="translate(301.25,433) rotate(-30)" text-anchor="end" style="font-family:'Liberation Sans',sans-serif;font-weight:bold;font-size:8.7px" fill="#1a1a1a" stroke="#1a1a1a" stroke-width="0.3">BMIMAc</text>
<rect x="312.9" y="418.35" width="6.9" height="3.55" fill="#ec2e2b" stroke="#5a3a3a" stroke-width="0.35"/>
<path d="M316.35 418.79V417.9M314.75 417.9h3.2" stroke="#666" stroke-width="0.7" fill="none"/>
<rect x="319.8" y="397.04" width="6.9" height="24.86" fill="#69b43c" stroke="#5a3a3a" stroke-width="0.35"/>
<path d="M323.25 398.37V395.7M321.65 395.7h3.2" stroke="#666" stroke-width="0.7" fill="none"/>
<rect x="326.7" y="374.39" width="6.9" height="47.51" fill="#9a4b9c" stroke="#5a3a3a" stroke-width="0.35"/>
<path d="M330.15 376.61V372.17M328.55 372.17h3.2" stroke="#666" stroke-width="0.7" fill="none"/>
<line x1="323.25" y1="422.4" x2="323.25" y2="426.2" stroke="#4a4a4a" stroke-width="0.9"/>
<line x1="336.05" y1="422.4" x2="336.05" y2="424.4" stroke="#4a4a4a" stroke-width="0.9"/>
<text transform="translate(326.85,433) rotate(-30)" text-anchor="end" style="font-family:'Liberation Sans',sans-serif;font-weight:bold;font-size:8.7px" fill="#1a1a1a" stroke="#1a1a1a" stroke-width="0.3">HMIMCl</text>
<rect x="338.5" y="421.46" width="6.9" height="0.44" fill="#ec2e2b" stroke="#5a3a3a" stroke-width="0.35"/>
<rect x="345.4" y="404.58" width="6.9" height="17.32" fill="#69b43c" stroke="#5a3a3a" stroke-width="0.35"/>
<path d="M348.85 405.47V403.7M347.25 403.7h3.2" stroke="#666" stroke-width="0.7" fill="none"/>
<rect x="352.3" y="383.27" width="6.9" height="38.63" fill="#9a4b9c" stroke="#5a3a3a" stroke-width="0.35"/>
<path d="M355.75 385.49V381.05M354.15 381.05h3.2" stroke="#666" stroke-width="0.7" fill="none"/>
<line x1="348.85" y1="422.4" x2="348.85" y2="426.2" stroke="#4a4a4a" stroke-width="0.9"/>
<line x1="361.65" y1="422.4" x2="361.65" y2="424.4" stroke="#4a4a4a" stroke-width="0.9"/>
<text transform="translate(352.45,433) rotate(-30)" text-anchor="end" style="font-family:'Liberation Sans',sans-serif;font-weight:bold;font-size:8.7px" fill="#1a1a1a" stroke="#1a1a1a" stroke-width="0.3">HMIMBF4</text>
<rect x="364.1" y="404.58" width="6.9" height="17.32" fill="#ec2e2b" stroke="#5a3a3a" stroke-width="0.35"/>
<path d="M367.55 405.47V403.7M365.95 403.7h3.2" stroke="#666" stroke-width="0.7" fill="none"/>
<rect x="371" y="301.58" width="6.9" height="120.32" fill="#69b43c" stroke="#5a3a3a" stroke-width="0.35"/>
<path d="M374.45 307.79V295.36M372.85 295.36h3.2" stroke="#666" stroke-width="0.7" fill="none"/>
<rect x="377.9" y="259.84" width="6.9" height="162.06" fill="#9a4b9c" stroke="#5a3a3a" stroke-width="0.35"/>
<path d="M381.35 267.83V251.85M379.75 251.85h3.2" stroke="#666" stroke-width="0.7" fill="none"/>
<line x1="374.45" y1="422.4" x2="374.45" y2="426.2" stroke="#4a4a4a" stroke-width="0.9"/>
<text transform="translate(378.05,433) rotate(-30)" text-anchor="end" style="font-family:'Liberation Sans',sans-serif;font-weight:bold;font-size:8.7px" fill="#1a1a1a" stroke="#1a1a1a" stroke-width="0.3">Water</text>
<rect x="234.5" y="244.5" width="23" height="11.4" fill="#ec2e2b" stroke="#6a5a5a" stroke-width="0.4"/>
<text x="260.9" y="254.5" style="font-family:'Liberation Sans',sans-serif;font-size:10.4px" fill="#1a1a1a">tangential</text>
<rect x="234.5" y="257.85" width="23" height="11.4" fill="#69b43c" stroke="#6a5a5a" stroke-width="0.4"/>
<text x="260.9" y="267.85" style="font-family:'Liberation Sans',sans-serif;font-size:10.4px" fill="#1a1a1a">radial</text>
<rect x="234.5" y="271.2" width="23" height="11.4" fill="#9a4b9c" stroke="#6a5a5a" stroke-width="0.4"/>
<text x="260.9" y="281.2" style="font-family:'Liberation Sans',sans-serif;font-size:10.4px" fill="#1a1a1a">longitudinal</text>
<text x="167.6" y="256.4" style="font-family:'Liberation Sans',sans-serif;font-weight:bold;font-size:9.3px" fill="#1a1a1a" stroke="#1a1a1a" stroke-width="0.12">Beech</text>
<text x="176.6" y="266.5" style="font-family:'Liberation Sans',sans-serif;font-weight:bold;font-size:9.3px" fill="#1a1a1a" stroke="#1a1a1a" stroke-width="0.12">(c)</text>
<text transform="translate(129.9,327.8) rotate(-90)" text-anchor="middle" style="font-family:'Liberation Sans',sans-serif;font-weight:bold;font-size:11.0px" fill="#1a1a1a" stroke="#1a1a1a" stroke-width="0.12"><tspan style="font-style:italic">D<tspan dy="2.5" style="font-size:7.5px">x</tspan><tspan dy="-2.5" dx="1.3">*</tspan><tspan dx="1.1">10</tspan><tspan dy="-4.3" style="font-size:7.5px">3</tspan></tspan><tspan dy="4.3" dx="0.5" style="font-size:11.6px">(mm</tspan><tspan dy="-4.2" style="font-size:7.8px">2</tspan><tspan dy="4.2" style="font-size:11.6px">/min)</tspan></text>
</svg>
</body></html>
